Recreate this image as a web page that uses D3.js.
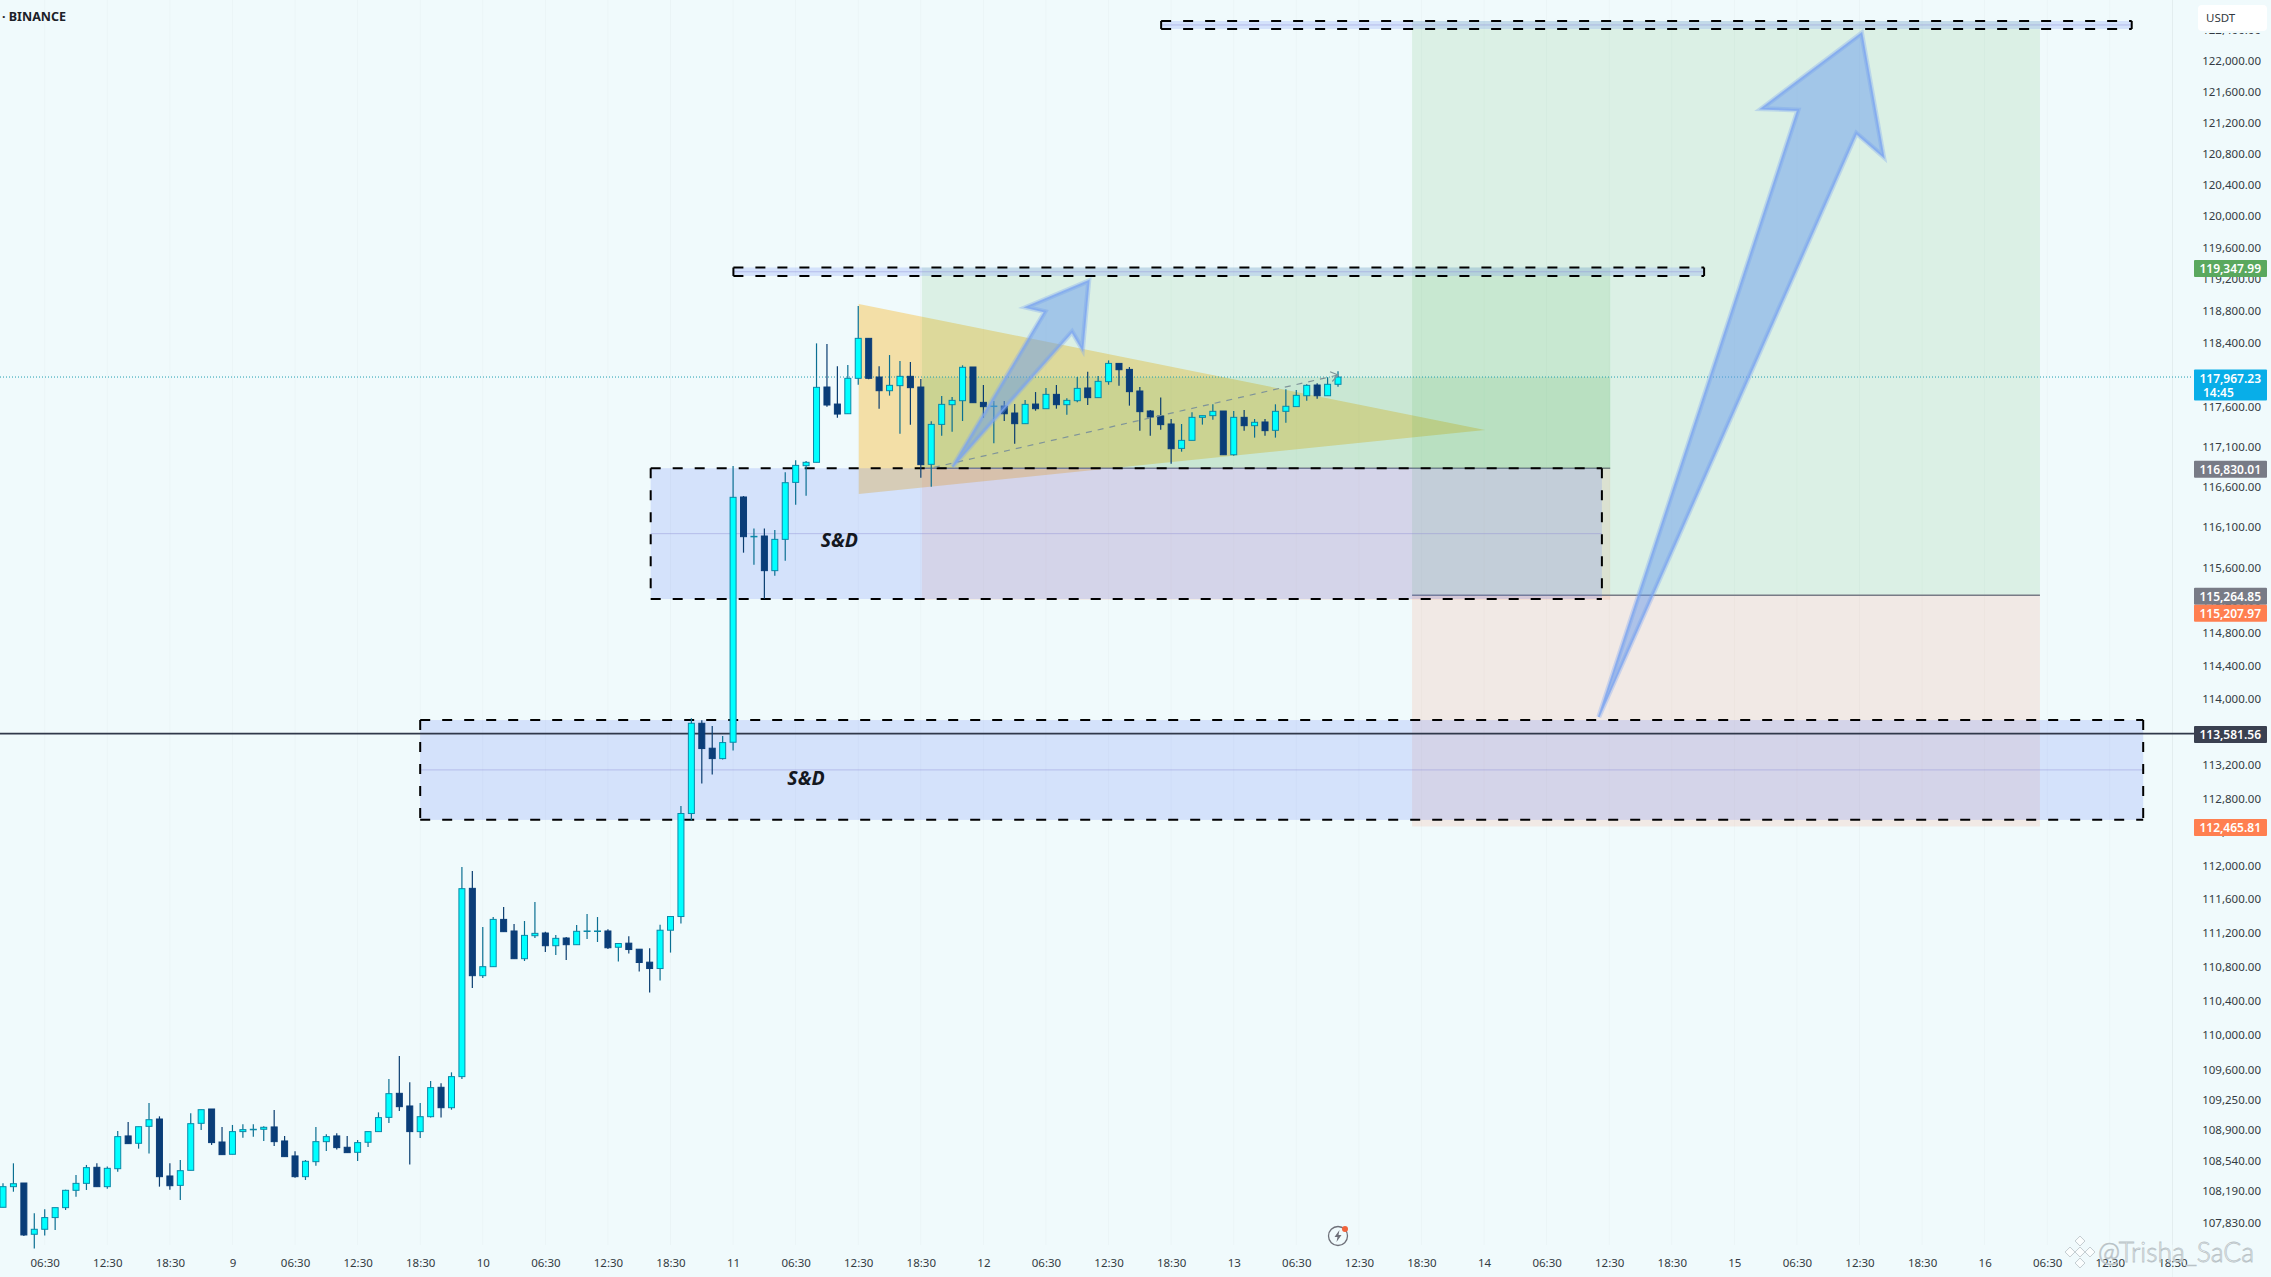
<!DOCTYPE html>
<html>
<head>
<meta charset="utf-8">
<script src="https://cdn.jsdelivr.net/npm/d3@7"></script>
<style>
  html, body { margin: 0; padding: 0; background: #f0fafc; overflow: hidden; }
  svg { display: block; font-family: "Noto Sans", sans-serif; }
  .axis text { fill: #333a42; font-size: 11.5px; font-family: "Noto Sans", sans-serif; }
  .axis path, .axis line { display: none; }
  .tag text { font-size: 12px; font-weight: 600; fill: #fff; text-anchor: end; }
</style>
</head>
<body>
<script>
// one hourly candle per entry
const opens = [
  108006,108243,108285,107697,107754,107888,108002,108201,108281,108466,
  108243,108450,108828,108743,108939,109024,108366,108258,108431,108974,
  109140,108758,108616,108878,108905,108905,108932,108770,108597,108358,
  108531,108762,108828,108697,108639,108755,108878,109043,109322,109175,
  108878,109051,109392,109155,109516,111729,110697,110803,111361,111224,
  110897,111168,111200,111050,111141,111062,111220,111220,111224,111032,
  111080,111009,110856,110781,111233,111395,112621,113706,113405,113280,
  113477,116473,115987,115991,115565,115950,116654,116861,116903,117842,
  117629,117508,117951,118453,117967,117796,117859,117976,117842,116878,
  117375,117621,117671,118093,117650,117604,117604,117517,117384,117629,
  117571,117750,117621,117671,117830,117709,117909,118138,118063,117792,
  117542,117480,117380,117076,117176,117463,117484,117542,116997,117463,
  117359,117405,117301,117538,117597,117733,117867,117733,117876
];
const highs = [
  108281,108512,108285,107937,107983,108002,108208,108377,108493,108512,
  108474,108885,108989,108935,109210,109055,108512,108550,109090,109132,
  109140,108932,108955,108962,108962,108939,109128,108828,108651,108550,
  108932,108847,108858,108828,108781,108878,109101,109488,109756,109450,
  109210,109465,109438,109566,111983,111935,111271,111389,111508,111306,
  111342,111567,111216,111176,111153,111294,111425,111389,111243,111076,
  111162,111009,111021,111299,111395,112712,113767,113743,113674,113553,
  116857,116485,116085,116085,116065,116779,116928,116919,118390,118382,
  118101,118118,118861,118453,118101,118243,118168,118156,117942,117413,
  117729,117717,118114,118093,117867,117667,117667,117629,117679,117779,
  117830,117867,117700,117967,118034,117980,118176,118138,118092,117842,
  117555,117712,117442,117380,117526,117484,117626,117542,117542,117555,
  117442,117442,117626,117813,117804,117876,117888,117964,118039
];
const lows = [
  108006,108185,107678,107533,107682,107747,107975,108128,108205,108243,
  108220,108416,108739,108681,108624,108243,108208,108090,108431,108897,
  108724,108612,108616,108808,108820,108770,108712,108589,108347,108320,
  108485,108654,108670,108635,108539,108700,108878,108978,109117,108497,
  108805,109040,109040,109132,109488,110552,110670,110803,111216,110897,
  110870,111141,110975,110940,110881,111062,111129,111094,111011,110863,
  110958,110745,110498,110639,110969,111312,112537,112980,113088,113268,
  113377,115786,115639,115219,115503,115688,116378,116489,116903,117596,
  117459,117508,117871,117938,117571,117734,117259,117371,116712,116601,
  117234,117284,117417,117646,117459,117139,117417,117135,117384,117546,
  117571,117571,117496,117650,117617,117709,117871,117859,117609,117297,
  117234,117309,116885,117035,117176,117372,117434,116997,116985,117297,
  117210,117234,117210,117397,117597,117671,117696,117733,117846
];
const closes = [
  108243,108277,107689,107754,107888,108002,108201,108281,108462,108243,
  108454,108820,108739,108935,109016,108358,108254,108427,108970,109132,
  108751,108612,108878,108901,108905,108928,108762,108589,108358,108535,
  108762,108820,108693,108635,108751,108878,109040,109318,109167,108878,
  109051,109388,109155,109516,111725,110697,110803,111361,111216,110897,
  111172,111196,111050,111137,111062,111220,111224,111224,111026,111076,
  111005,110852,110781,111233,111395,112621,113706,113401,113280,113473,
  116469,115983,115987,115565,115950,116650,116865,116903,117838,117617,
  117504,117951,118453,117951,117796,117863,117976,117834,116874,117375,
  117625,117675,118089,117646,117596,117604,117508,117384,117625,117571,
  117750,117621,117675,117825,117709,117913,118138,118059,117784,117534,
  117467,117372,117072,117176,117463,117484,117538,116997,117463,117359,
  117401,117297,117538,117601,117738,117863,117733,117876,117967
];

const priceTicks = [
  122400,122000,121600,121200,120800,120400,120000,119600,119200,118800,118400,
  118000,117600,117100,116600,116100,115600,115200,114800,114400,114000,113600,
  113200,112800,112400,112000,111600,111200,110800,110400,110000,109600,109250,
  108900,108540,108190,107830
];
const timeLabels = [
  "06:30","12:30","18:30","9","06:30","12:30","18:30","10","06:30","12:30","18:30","11",
  "06:30","12:30","18:30","12","06:30","12:30","18:30","13","06:30","12:30","18:30","14",
  "06:30","12:30","18:30","15","06:30","12:30","18:30","16","06:30","12:30","18:30"
];
const timeTicks = timeLabels.map((d, i) => 4 + i * 6);

// drawings, in bar index and price
const demandZones = [
  { bar0: 111.04, bar1: 204.1, top: 122516, bottom: 122412, mid: 122464 },
  { bar0: 70.03, bar1: 163.1, top: 119347.99, bottom: 119241, mid: 119294 },
  { bar0: 62.1, bar1: 153.3, top: 116830, bottom: 115217, mid: 116020 },
  { bar0: 40, bar1: 205.2, top: 113745, bottom: 112545, mid: 113144 }
];
const zoneLabels = [
  { bar: 78.4, price: 115850 },
  { bar: 75.2, price: 112965 }
];
const positions = [
  { bar0: 88.1, bar1: 154.1, target: 119347.99, entry: 116830.01, stop: 115207.97, active: true },
  { bar0: 135.1, bar1: 195.3, target: 122516, entry: 115264.85, stop: 112465.81, active: false }
];
const triangle = [[82.05, 118887], [142.1, 117305], [82.05, 116510]];
const trendLine = [[89.25, 116840], [128, 117992]];
const smallArrow = [[91.05, 116849], [102.5, 118536], [103.5, 118315], [104.1, 119177], [98.1, 118845], [99.9, 118789]];
const bigArrow = [[153, 113782], [177.7, 121063], [180.3, 120762], [178.2, 122356], [168.6, 121379], [172.1, 121362]];
const hLine = 113581.56;

const priceTags = [
  { price: 119347.99, color: "#5aa85e" },
  { price: 117967.23, color: "#08aee8", sub: "14:45" },
  { price: 116830.01, color: "#787b86" },
  { price: 115264.85, color: "#787b86" },
  { price: 115207.97, color: "#ff7f50" },
  { price: 113581.56, color: "#3a4050" },
  { price: 112465.81, color: "#ff7f50" }
];

const width = 2271, height = 1277;
const bg = "#f0fafc";
const lastClose = closes[closes.length - 1];
const svg = d3.select("body").append("svg").attr("width", width).attr("height", height);
svg.append("rect").attr("width", width).attr("height", height).attr("fill", bg);

const x = d3.scaleLinear().domain([0, 208]).range([3, 2172.4]);
const y = d3.scaleLog().domain([107209, 122789]).range([1277, 0]);
const polyLine = d3.line().x(d => x(d[0])).y(d => y(d[1]));
const fmt = d3.format(",.2f");

svg.append("defs").append("marker").attr("id", "head")
  .attr("markerWidth", 10).attr("markerHeight", 12).attr("refX", 8).attr("refY", 6)
  .attr("orient", "auto").attr("markerUnits", "userSpaceOnUse")
  .append("path").attr("d", "M1,1 L8,6 L1,11").attr("fill", "none")
  .attr("stroke", "#7f9499").attr("stroke-width", 1.2);

// grid
svg.append("g").selectAll("line").data(timeTicks).join("line")
  .attr("x1", x).attr("x2", x).attr("y1", 0).attr("y2", 1245)
  .attr("stroke", "#000").attr("stroke-opacity", 0.025);
svg.append("line").attr("x1", 2172.5).attr("x2", 2172.5).attr("y1", 0).attr("y2", height)
  .attr("stroke", "#000").attr("stroke-opacity", 0.03);

// triangle, below the position tools
svg.append("path").attr("d", polyLine(triangle) + "Z")
  .attr("fill", "rgb(245,190,60)").attr("fill-opacity", 0.44);

// long position tools
const pos = svg.append("g").selectAll("g").data(positions).join("g");
pos.append("rect").attr("x", d => x(d.bar0)).attr("width", d => x(d.bar1) - x(d.bar0))
  .attr("y", d => y(d.target)).attr("height", d => y(d.entry) - y(d.target))
  .attr("fill", "rgb(76,175,80)").attr("fill-opacity", 0.13);
pos.append("rect").attr("x", d => x(d.bar0)).attr("width", d => x(d.bar1) - x(d.bar0))
  .attr("y", d => y(d.entry)).attr("height", d => y(d.stop) - y(d.entry))
  .attr("fill", "rgb(255,100,50)").attr("fill-opacity", 0.11);
// running profit of the open trade
pos.filter(d => d.active).append("rect").attr("x", d => x(d.bar0)).attr("width", d => x(d.bar1) - x(d.bar0))
  .attr("y", y(lastClose)).attr("height", d => y(d.entry) - y(lastClose))
  .attr("fill", "rgb(76,175,80)").attr("fill-opacity", 0.12);

// S&D zones
const zones = svg.append("g").selectAll("g").data(demandZones).join("g");
zones.append("rect").attr("x", d => x(d.bar0)).attr("width", d => x(d.bar1) - x(d.bar0))
  .attr("y", d => y(d.top)).attr("height", d => y(d.bottom) - y(d.top))
  .attr("fill", "rgb(100,130,250)").attr("fill-opacity", 0.2);
zones.append("line").attr("x1", d => x(d.bar0)).attr("x2", d => x(d.bar1))
  .attr("y1", d => y(d.mid)).attr("y2", d => y(d.mid))
  .attr("stroke", "#8f8fd8").attr("stroke-opacity", 0.45);

// each edge runs left to right or top to bottom so the dashes line up
const edge = (sel, x1, x2, y1, y2) => sel.append("line")
  .attr("x1", x1).attr("x2", x2).attr("y1", y1).attr("y2", y2)
  .attr("stroke", "#000").attr("stroke-width", 2).attr("stroke-dasharray", "10 12");
edge(zones, d => x(d.bar0), d => x(d.bar1), d => y(d.top), d => y(d.top));
edge(zones, d => x(d.bar0), d => x(d.bar1), d => y(d.bottom), d => y(d.bottom));
edge(zones, d => x(d.bar0), d => x(d.bar0), d => y(d.top), d => y(d.bottom));
edge(zones, d => x(d.bar1), d => x(d.bar1), d => y(d.top), d => y(d.bottom));

pos.append("line").attr("x1", d => x(d.bar0)).attr("x2", d => x(d.bar1))
  .attr("y1", d => y(d.entry)).attr("y2", d => y(d.entry))
  .attr("stroke", "#787b86").attr("stroke-width", 1.5);

// price lines
svg.append("line").attr("x1", 0).attr("x2", 2192).attr("y1", y(lastClose)).attr("y2", y(lastClose))
  .attr("stroke", "#1f9db0").attr("stroke-dasharray", "1 2");
svg.append("line").attr("x1", 0).attr("x2", 2194).attr("y1", y(hLine)).attr("y2", y(hLine))
  .attr("stroke", "#30384a").attr("stroke-width", 1.7);

// candles
const candles = svg.append("g").selectAll("g").data(opens.map((o, i) => ({
  i, o, h: highs[i], l: lows[i], c: closes[i]
}))).join("g");
const isUp = d => d.c >= d.o;
candles.append("line").attr("x1", d => x(d.i)).attr("x2", d => x(d.i))
  .attr("y1", d => y(d.h)).attr("y2", d => y(d.l))
  .attr("stroke", d => isUp(d) ? "#0b6f92" : "#0a3d70").attr("stroke-width", 1.2);
candles.append("rect").attr("x", d => x(d.i) - 3).attr("width", 6)
  .attr("y", d => y(Math.max(d.o, d.c)))
  .attr("height", d => Math.max(0.5, Math.abs(y(d.o) - y(d.c))))
  .attr("fill", d => isUp(d) ? "#00ffff" : "#0a3d78")
  .attr("stroke", d => isUp(d) ? "#0a89a8" : "#0a3d78").attr("stroke-width", 1);

// dashed forecast line
svg.append("path").attr("d", polyLine(trendLine)).attr("marker-end", "url(#head)")
  .attr("fill", "none").attr("stroke", "#7f9499").attr("stroke-width", 1.2).attr("stroke-dasharray", "6 6");

// arrows: soft outer edge, then fill with the thin darker edge
const arrows = svg.append("g").selectAll("g").data([smallArrow, bigArrow]).join("g");
arrows.append("path").attr("d", d => polyLine(d) + "Z")
  .attr("fill", "none").attr("stroke", "rgb(125,165,240)").attr("stroke-opacity", 0.35)
  .attr("stroke-width", 5);
arrows.append("path").attr("d", d => polyLine(d) + "Z")
  .attr("fill", "rgb(105,155,235)").attr("fill-opacity", 0.5)
  .attr("stroke", "rgb(125,165,240)").attr("stroke-opacity", 0.75).attr("stroke-width", 1.8);

// zone labels
svg.append("g").selectAll("text").data(zoneLabels).join("text")
  .attr("x", d => x(d.bar)).attr("y", d => y(d.price))
  .attr("font-size", 19.5).attr("font-weight", 700).attr("font-style", "italic")
  .attr("fill", "#14181f").text("S&D");

// axes
svg.append("g").attr("class", "axis").attr("transform", "translate(2261,0)")
  .call(d3.axisLeft(y).tickValues(priceTicks).tickSize(0).tickPadding(0).tickFormat(fmt));
svg.append("g").attr("class", "axis").attr("transform", "translate(0,1258.5)")
  .call(d3.axisBottom(x).tickValues(timeTicks).tickSize(0).tickPadding(0)
    .tickFormat((d, i) => timeLabels[i]));

// currency box, with a strip that hides most of the tick below it
svg.append("rect").attr("x", 2190).attr("y", 0).attr("width", 81).attr("height", 33).attr("fill", bg);
svg.append("rect").attr("x", 2198).attr("y", 5).attr("width", 69).attr("height", 26).attr("rx", 4).attr("fill", "#fff");
svg.append("text").attr("x", 2206).attr("y", 22).attr("font-size", 11.5).attr("fill", "#333a42").text("USDT");

// price tags, pushed down where they would overlap
let lastBottom = -Infinity;
priceTags.forEach(t => {
  t.top = Math.max(y(t.price) - 7.5, lastBottom);
  t.h = t.sub ? 31 : 17;
  lastBottom = t.top + t.h;
});
const tags = svg.append("g").selectAll("g").data(priceTags).join("g").attr("class", "tag");
tags.append("rect").attr("x", 2194).attr("y", d => d.top).attr("width", 73).attr("height", d => d.h)
  .attr("rx", 1).attr("fill", d => d.color);
tags.append("text").attr("x", 2261).attr("y", d => d.top + 13).text(d => fmt(d.price));
tags.filter(d => d.sub).append("text").attr("x", 2203).attr("y", d => d.top + 27)
  .style("text-anchor", "start").text(d => d.sub);

// header
svg.append("text").attr("x", 66).attr("y", 21).attr("text-anchor", "end")
  .attr("font-size", 12.5).attr("font-weight", 700).attr("fill", "#1c2128").text("h · BINANCE");

// lightning badge
const bolt = svg.append("g").attr("transform", "translate(1338,1236)");
bolt.append("circle").attr("r", 9.5).attr("fill", "none").attr("stroke", "#6e7079").attr("stroke-width", 1.3);
bolt.append("path").attr("d", "M1.5,-6 L-3.5,1 L-0.5,1 L-1.5,6 L3.5,-1 L0.5,-1 Z").attr("fill", "#6e7079");
bolt.append("circle").attr("cx", 7).attr("cy", -7).attr("r", 3).attr("fill", "#f0643c");

// watermark
const mark = svg.append("g").attr("fill", "#fff").attr("fill-opacity", 0.75).attr("stroke", "#b9c3c7").attr("stroke-width", 0.8);
[[2080, 1241], [2070, 1252], [2080, 1252], [2090, 1252], [2080, 1263]].forEach(p => {
  mark.append("rect").attr("x", -3.5).attr("y", -3.5).attr("width", 7).attr("height", 7)
    .attr("transform", `translate(${p[0]},${p[1]}) rotate(45)`);
});
mark.append("text").attr("x", 2098).attr("y", 1262).attr("font-size", 26.5).attr("font-weight", 300)
  .attr("font-family", "Lato, sans-serif").text("@Trisha_SaCa");
</script>
</body>
</html>
